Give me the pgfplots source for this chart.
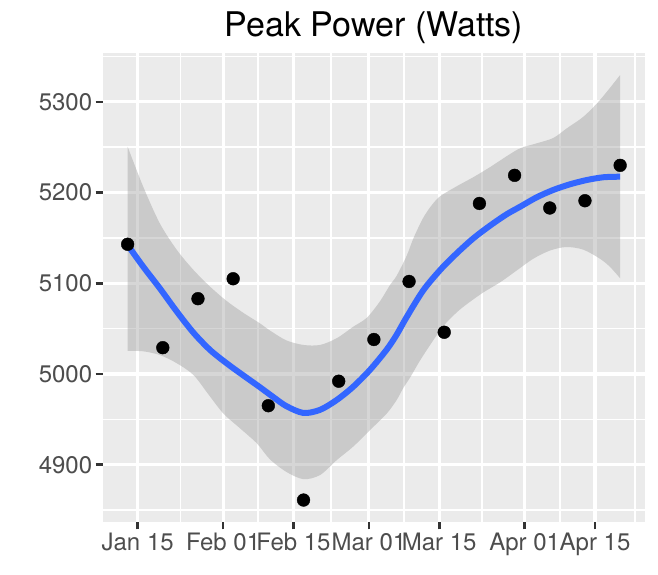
\documentclass[border=0pt]{standalone}
\usepackage{pgfplots}
\pgfplotsset{compat=1.18}
\usepackage{pgfplotstable}
\usepgfplotslibrary{fillbetween}
\usepackage{fontspec}
\setmainfont{TeX Gyre Heros}
\definecolor{panelbg}{HTML}{EBEBEB}
\definecolor{grey30}{HTML}{4D4D4D}
\definecolor{grey20}{HTML}{333333}
\definecolor{smoothblue}{HTML}{3366FF}
\definecolor{ribboncol}{HTML}{999999}

\pgfplotstableread{
day val
13 5143
20 5029
27 5083
34 5105
41 4965
48 4861
55 4992
62 5038
69 5102
76 5046
83 5188
90 5219
97 5183
104 5191
111 5230
}\ptsdata

\pgfplotstableread{
day val
13.0 5142.2
16.1 5118.3
19.4 5094.5
22.8 5068.7
26.1 5045.5
29.4 5026.5
32.7 5011.8
36.0 4998.5
39.3 4985.5
42.0 4974.5
44.6 4964.5
48.0 4957.0
51.3 4960.5
54.6 4971.3
57.9 4986.0
61.2 5004.4
64.5 5026.5
66.5 5043.0
68.5 5062.5
71.8 5092.0
75.2 5114.7
78.5 5133.1
81.8 5149.6
85.1 5163.5
88.4 5176.0
91.1 5184.4
94.4 5194.8
97.7 5202.9
101.0 5209.1
104.4 5213.9
107.7 5216.9
111.0 5217.5
}\fitdata

\pgfplotstableread{
day val
13.0 5250.6
16.1 5206.5
19.4 5166.1
22.8 5136.7
26.1 5114.7
29.4 5096.3
32.7 5080.5
36.0 5067.5
39.3 5055.9
41.3 5048.0
44.6 5037.0
48.0 5032.0
51.3 5032.0
54.6 5039.4
57.9 5052.1
60.6 5062.0
63.2 5080.0
65.2 5098.0
66.5 5108.0
68.5 5130.0
69.9 5150.0
71.8 5172.0
73.5 5186.0
75.2 5196.0
78.5 5207.0
81.8 5217.0
85.1 5228.0
88.4 5240.0
91.1 5248.8
94.4 5254.3
97.7 5260.2
100.4 5270.9
103.7 5283.7
107.0 5302.1
111.0 5329.6
}\ribup

\pgfplotstableread{
day val
13.0 5025.4
16.1 5025.0
19.4 5020.9
22.8 5011.8
26.1 4998.9
29.0 4978.1
32.0 4956.7
35.3 4940.4
38.7 4923.6
41.3 4906.0
44.6 4892.0
48.0 4884.0
51.3 4888.6
54.6 4905.0
57.9 4920.0
61.2 4938.0
64.5 4956.0
66.5 4971.0
67.9 4985.0
69.2 4996.0
71.2 5015.0
73.8 5037.0
76.0 5054.0
78.5 5068.0
80.5 5077.0
83.8 5090.0
87.1 5101.0
90.4 5114.0
93.7 5127.0
97.0 5136.0
100.3 5140.0
103.7 5137.0
107.0 5127.0
109.0 5118.0
111.0 5105.5
}\riblow

\begin{document}
\begin{tikzpicture}[x=1pt,y=1pt]
\begin{axis}[
  at={(103pt,53pt)}, anchor=south west,
  scale only axis, width=542pt, height=469pt,
  xmin=8.1, xmax=115.95, ymin=4836.8, ymax=5353.9,
  axis background/.style={fill=panelbg},
  axis line style={draw=none},
  xtick={15,32,46,61,75,92,106},
  xticklabels={Jan 15,Feb 01,Feb 15,Mar 01,Mar 15,Apr 01,Apr 15},
  minor xtick={8,23.5,39,53.5,68,83.5,99,114},
  ytick={4900,5000,5100,5200,5300},
  yticklabels={4900,5000,5100,5200,5300},
  minor ytick={4850,4950,5050,5150,5250,5350},
  grid=both,
  major grid style={white, line width=3.2pt},
  minor grid style={white, line width=1.6pt},
  tick align=outside, tick pos=left,
  major tick length=7.3pt, minor tick length=0pt,
  major tick style={grey20, line width=2.7pt},
  tick label style={font=\fontsize{24}{29}\selectfont, text=grey30},
]
\addplot[only marks, mark=*, mark size=6.4pt, mark options={fill=black, draw=none}] table[x=day,y=val] {\ptsdata};
\addplot[name path=U, draw=none, smooth, forget plot] table[x=day,y=val] {\ribup};
\addplot[name path=L, draw=none, smooth, forget plot] table[x=day,y=val] {\riblow};
\addplot[fill=ribboncol, fill opacity=0.4, draw=none] fill between[of=U and L];
\addplot[smoothblue, line width=6pt, smooth] table[x=day,y=val] {\fitdata};
\end{axis}
\node[anchor=base, font=\fontsize{34}{40}\selectfont] at (374,538) {Peak Power (Watts)};
\pgfresetboundingbox
\path[use as bounding box] (0,0) rectangle (658,575);
\end{tikzpicture}
\end{document}
